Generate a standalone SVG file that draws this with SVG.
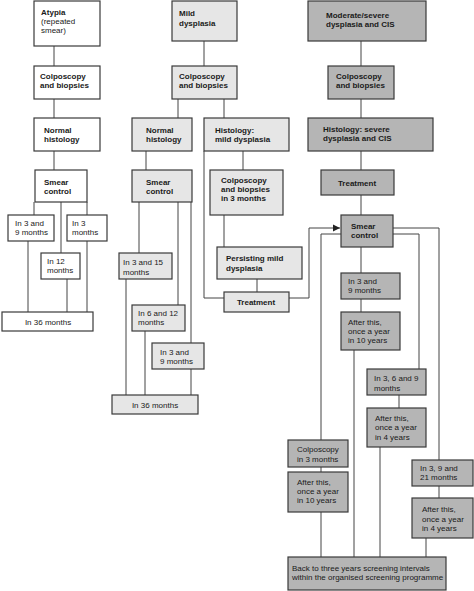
<svg xmlns="http://www.w3.org/2000/svg" width="474" height="591" viewBox="0 0 474 591">
<style>
g rect{stroke:#3a3a3a;stroke-width:1.2}
.w{fill:#ffffff}
.l{fill:#e6e6e6}
.d{fill:#b5b5b5}
text{font-family:"Liberation Sans",Arial,sans-serif;font-size:8px;fill:#1a1a1a}
.b{font-weight:bold}
.m{text-anchor:middle}
#connectors path{fill:none;stroke:#444;stroke-width:1}
</style>
<defs>
<marker id="arr" markerWidth="8" markerHeight="8" refX="7" refY="4" orient="auto" markerUnits="userSpaceOnUse">
<path d="M0,0.5 L7,4 L0,7.5 Z" fill="#222"/>
</marker>
</defs>
<g id="connectors">
<path d="M54,46V66M54,99V118M54,151V170"/>
<path d="M34,202V215M61,202V253M87,202V215M28,241V312M67,279V312M87,241V312"/>
<path d="M204,41V66M178,99V118M224,99V118M146,151V170M243,151V215"/>
<path d="M204,151V298H224M224,215V247M257,279V292"/>
<path d="M289,298H309V228H340" marker-end="url(#arr)"/>
<path d="M139,202V253M178,202V305M191,202V343M191,369V395M126,279V395M145,331V395"/>
<path d="M361,41V66M361,99V118M361,151V170M361,195V215"/>
<path d="M393,228H439V460M393,234H419V369M341,234H321V440"/>
<path d="M361,247V273M361,299V312M354,350V557M399,395V408M380,447V557"/>
<path d="M321,467V472M321,512V557M439,486V498M426,538V557"/>
</g>
<g id="atypia"><rect class="w" x="34" y="1" width="66" height="45"/><text x="41" y="15" class="b">Atypia</text><text x="41" y="24">(repeated</text><text x="41" y="33">smear)</text></g>
<g id="colpo1"><rect class="w" x="34" y="66" width="66" height="33"/><text x="40" y="79" class="b">Colposcopy</text><text x="40" y="88" class="b">and biopsies</text></g>
<g id="normal1"><rect class="w" x="34" y="118" width="66" height="33"/><text x="44" y="133" class="b">Normal</text><text x="44" y="142" class="b">histology</text></g>
<g id="smear1"><rect class="w" x="35" y="170" width="52" height="32"/><text x="44" y="185" class="b">Smear</text><text x="44" y="194" class="b">control</text></g>
<g id="c1_3and9"><rect class="w" x="8" y="215" width="46" height="26"/><text x="15" y="226">In 3 and</text><text x="15" y="235">9 months</text></g>
<g id="c1_3"><rect class="w" x="67" y="215" width="40" height="26"/><text x="72" y="226">In 3</text><text x="72" y="235">months</text></g>
<g id="c1_12"><rect class="w" x="41" y="253" width="39" height="26"/><text x="47" y="264">In 12</text><text x="47" y="273">months</text></g>
<g id="c1_36"><rect class="w" x="2" y="312" width="91" height="19"/><text x="48" y="325" class="m">In 36 months</text></g>

<g id="mild"><rect class="l" x="172" y="1" width="65" height="40"/><text x="179" y="16" class="b">Mild</text><text x="179" y="26" class="b">dysplasia</text></g>
<g id="colpo2"><rect class="l" x="172" y="66" width="65" height="33"/><text x="179" y="79" class="b">Colposcopy</text><text x="179" y="88" class="b">and biopsies</text></g>
<g id="normal2"><rect class="l" x="132" y="118" width="60" height="33"/><text x="146" y="133" class="b">Normal</text><text x="146" y="142" class="b">histology</text></g>
<g id="histmild"><rect class="l" x="204" y="118" width="85" height="33"/><text x="215" y="133" class="b">Histology:</text><text x="215" y="142" class="b">mild dysplasia</text></g>
<g id="smear2"><rect class="l" x="132" y="170" width="60" height="32"/><text x="146" y="185" class="b">Smear</text><text x="146" y="194" class="b">control</text></g>
<g id="colpo3m"><rect class="l" x="210" y="170" width="73" height="45"/><text x="221" y="183" class="b">Colposcopy</text><text x="221" y="192" class="b">and biopsies</text><text x="221" y="201" class="b">in 3 months</text></g>
<g id="persist"><rect class="l" x="217" y="247" width="85" height="32"/><text x="226" y="261" class="b">Persisting mild</text><text x="226" y="271" class="b">dysplasia</text></g>
<g id="treat2"><rect class="l" x="224" y="292" width="65" height="20"/><text x="256" y="305" class="b m">Treatment</text></g>
<g id="c2_3and15"><rect class="l" x="119" y="253" width="53" height="26"/><text x="123" y="265">In 3 and 15</text><text x="123" y="275">months</text></g>
<g id="c2_6and12"><rect class="l" x="132" y="305" width="53" height="26"/><text x="138" y="316">In 6 and 12</text><text x="138" y="325">months</text></g>
<g id="c2_3and9"><rect class="l" x="152" y="343" width="52" height="26"/><text x="160" y="355">In 3 and</text><text x="160" y="364">9 months</text></g>
<g id="c2_36"><rect class="l" x="112" y="395" width="86" height="19"/><text x="155" y="408" class="m">In 36 months</text></g>

<g id="moderate"><rect class="d" x="308" y="1" width="118" height="40"/><text x="326" y="18" class="b">Moderate/severe</text><text x="326" y="27" class="b">dysplasia and CIS</text></g>
<g id="colpo3"><rect class="d" x="328" y="66" width="66" height="33"/><text x="336" y="79" class="b">Colposcopy</text><text x="336" y="88" class="b">and biopsies</text></g>
<g id="histsev"><rect class="d" x="308" y="118" width="125" height="33"/><text x="323" y="132" class="b">Histology: severe</text><text x="323" y="141" class="b">dysplasia and CIS</text></g>
<g id="treat3"><rect class="d" x="321" y="170" width="73" height="25"/><text x="357" y="186" class="b m">Treatment</text></g>
<g id="smear3"><rect class="d" x="341" y="215" width="52" height="32"/><text x="351" y="229" class="b">Smear</text><text x="351" y="238" class="b">control</text></g>
<g id="c3_3and9"><rect class="d" x="341" y="273" width="59" height="26"/><text x="348" y="284">In 3 and</text><text x="348" y="293">9 months</text></g>
<g id="c3_after10a"><rect class="d" x="341" y="312" width="59" height="38"/><text x="348" y="325">After this,</text><text x="348" y="334">once a year</text><text x="348" y="343">in 10 years</text></g>
<g id="c3_369"><rect class="d" x="367" y="369" width="59" height="26"/><text x="374" y="381">In 3, 6 and 9</text><text x="374" y="391">months</text></g>
<g id="c3_after4a"><rect class="d" x="367" y="408" width="59" height="39"/><text x="375" y="421">After this,</text><text x="375" y="430">once a year</text><text x="375" y="440">in 4 years</text></g>
<g id="c3_colpo3m"><rect class="d" x="288" y="440" width="60" height="27"/><text x="297" y="452">Colposcopy</text><text x="297" y="462">in 3 months</text></g>
<g id="c3_after10b"><rect class="d" x="288" y="472" width="60" height="40"/><text x="297" y="485">After this,</text><text x="297" y="494">once a year</text><text x="297" y="503">in 10 years</text></g>
<g id="c3_3921"><rect class="d" x="412" y="460" width="61" height="26"/><text x="420" y="471">In 3, 9 and</text><text x="420" y="480">21 months</text></g>
<g id="c3_after4b"><rect class="d" x="412" y="498" width="61" height="40"/><text x="422" y="512">After this,</text><text x="422" y="522">once a year</text><text x="422" y="531">in 4 years</text></g>
<g id="back"><rect class="d" x="288" y="557" width="158" height="33"/><text x="292" y="571">Back to three years screening intervals</text><text x="292" y="580">within the organised screening programme</text></g>
</svg>
